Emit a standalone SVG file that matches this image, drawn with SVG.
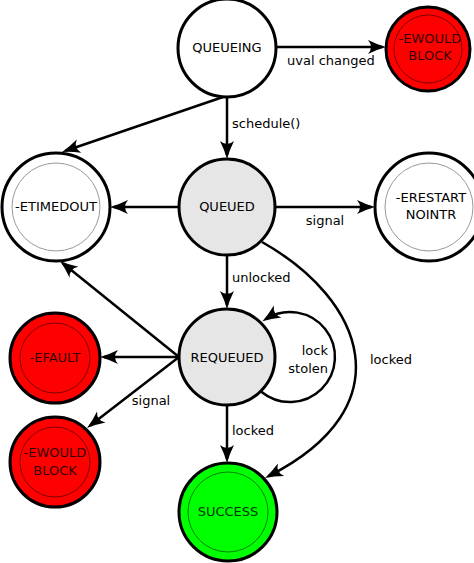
<svg xmlns="http://www.w3.org/2000/svg" width="474" height="563" viewBox="0 0 474 563">
<defs>
<marker id="ah" markerUnits="userSpaceOnUse" viewBox="-15 -8 20 16" refX="0" refY="0" markerWidth="20" markerHeight="16" orient="auto">
<path d="M4,0 Q-5,-2.5 -14,-7 Q-8,0 -14,7 Q-5,2.5 4,0 Z" fill="#000"/>
</marker>
</defs>
<style>
.st{stroke:#000;stroke-width:3}
.w{fill:#fff}
.g{fill:#e6e6e6}
.r{fill:#ff0000}
.gr{fill:#00ff00}
.in{fill:none;stroke:#999;stroke-width:1}
.inr{fill:none;stroke:#800000;stroke-width:1}
.ing{fill:none;stroke:#008000;stroke-width:1}
text{font-family:"DejaVu Sans","Liberation Sans",sans-serif;font-size:13px;fill:#000}
.c{text-anchor:middle}
.dr{fill:#330000}
.dg{fill:#003300}
.e{fill:none;stroke:#000;stroke-width:2.5;marker-end:url(#ah)}
</style>
<rect width="474" height="563" fill="#fff"/>
<g id="connectors">
<line class="e" x1="276" y1="47" x2="382" y2="47"/>
<line class="e" x1="227" y1="97" x2="227" y2="155"/>
<line class="e" x1="223" y1="97" x2="65.8" y2="150.7"/>
<line class="e" x1="179" y1="207" x2="114" y2="207"/>
<line class="e" x1="275" y1="207" x2="371" y2="207"/>
<line class="e" x1="227" y1="255" x2="227" y2="305"/>
<path class="e" d="M262,242 C365,300 405,407 268.6,476.2"/>
<path class="e" d="M261.3,391.7 A45,45 0 1 0 265.8,319"/>
<line class="e" x1="179" y1="357" x2="104" y2="357"/>
<line class="e" x1="179" y1="357" x2="63.1" y2="263.5"/>
<line class="e" x1="179" y1="357" x2="90.2" y2="425.5"/>
<line class="e" x1="227" y1="405" x2="227" y2="459"/>
<text x="287" y="65">uval changed</text>
<text x="232" y="128">schedule()</text>
<text x="325" y="225" class="c">signal</text>
<text x="232" y="282">unlocked</text>
<text x="328" y="355" text-anchor="end">lock</text>
<text x="328" y="373" text-anchor="end">stolen</text>
<text x="370" y="364">locked</text>
<text x="151" y="405" class="c">signal</text>
<text x="232" y="435">locked</text>
</g>
<g id="queueing">
<circle cx="227" cy="48" r="49" class="st w"/>
<text x="227" y="52" class="c">QUEUEING</text>
</g>
<g id="ewouldblock-top">
<circle cx="428" cy="49" r="42" class="st r"/>
<circle cx="428" cy="49" r="34" class="inr"/>
<text x="430" y="43" class="c dr">-EWOULD</text>
<text x="430" y="60" class="c dr">BLOCK</text>
</g>
<g id="etimedout">
<circle cx="56" cy="207" r="54" class="st w"/>
<circle cx="56" cy="207" r="44" class="in"/>
<text x="56" y="211" class="c">-ETIMEDOUT</text>
</g>
<g id="queued">
<circle cx="227" cy="207" r="48" class="st g"/>
<text x="227" y="211" class="c">QUEUED</text>
</g>
<g id="erestart">
<circle cx="429" cy="207" r="54" class="st w"/>
<circle cx="429" cy="207" r="44" class="in"/>
<text x="431" y="202" class="c">-ERESTART</text>
<text x="431" y="219" class="c">NOINTR</text>
</g>
<g id="requeued">
<circle cx="227" cy="357" r="48" class="st g"/>
<text x="227" y="362" class="c">REQUEUED</text>
</g>
<g id="efault">
<circle cx="55" cy="358" r="45" class="st r"/>
<circle cx="55" cy="358" r="35" class="inr"/>
<text x="55" y="362" class="c dr">-EFAULT</text>
</g>
<g id="ewouldblock-bottom">
<circle cx="55" cy="462" r="45" class="st r"/>
<circle cx="55" cy="462" r="35" class="inr"/>
<text x="55" y="457" class="c dr">-EWOULD</text>
<text x="55" y="475" class="c dr">BLOCK</text>
</g>
<g id="success">
<circle cx="228" cy="512" r="49" class="st gr"/>
<circle cx="228" cy="512" r="40" class="ing"/>
<text x="228" y="516" class="c dg">SUCCESS</text>
</g>
</svg>
